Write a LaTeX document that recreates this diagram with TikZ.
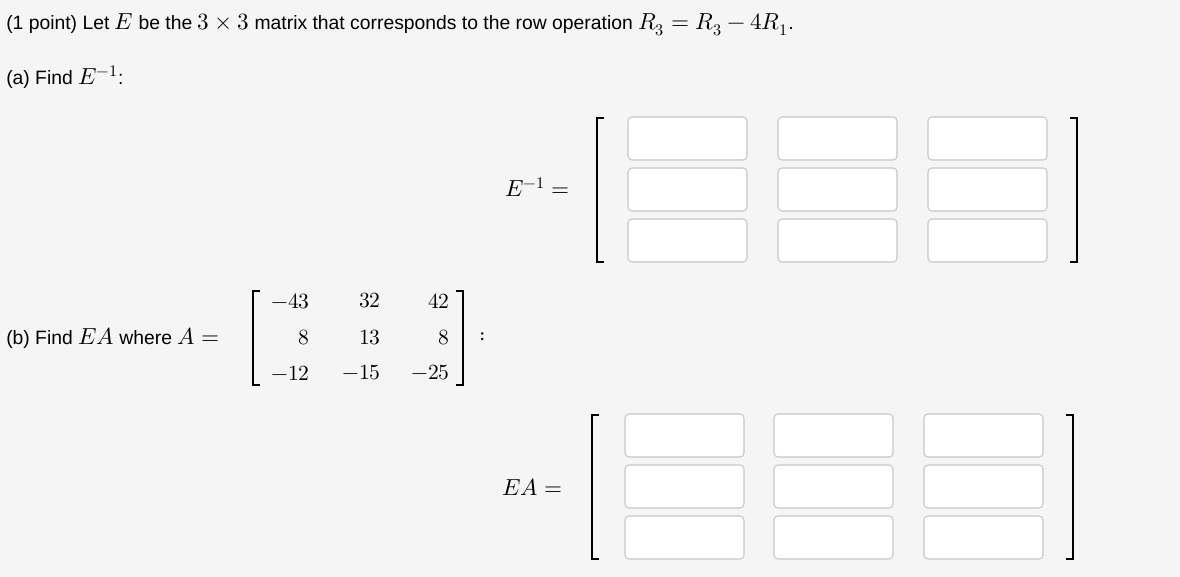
\documentclass[tikz,border=0pt]{standalone}
\usepackage{fontspec}
\setmainfont{Liberation Sans}
\usepackage{unicode-math}
\setmathfont[Scale=1.2]{Latin Modern Math}
\begin{document}
\begin{tikzpicture}[x=0.75pt,y=-0.75pt,
  ibox/.style={draw=black!22,fill=white,rounded corners=3pt,line width=0.8pt},
  brk/.style={line width=1.1pt},
  txt/.style={inner sep=0pt,anchor=west,font=\fontsize{14.5}{17}\selectfont},
  ent/.style={inner sep=0pt,anchor=east,font=\fontsize{13.5}{16}\selectfont}]
\fill[black!4] (0,0) rectangle (1180,577);
\useasboundingbox (0,0) rectangle (1180,577);
\node[txt] (l1) at (6,25) {(1 point) Let $E$ be the $3\times 3$ matrix that corresponds to the row operation $R_3=R_3-4R_1$.};
\node[txt] (la) at (6,77) {(a) Find $E^{-1}$:};
\node[txt,anchor=east] (einv) at (570,187) {$E^{-1}=$};
% top matrix
\foreach \c/\x in {0/628,1/778,2/928}
  \foreach \r/\y in {0/117,1/168,2/219}
    \draw[ibox] (\x,\y) rectangle ++(119,43);
\draw[brk] (604,118) -- (597,118) -- (597,262) -- (604,262);
\draw[brk] (1070,118) -- (1077,118) -- (1077,262) -- (1070,262);
% (b)
\node[txt] (lb) at (6,338) {(b) Find $EA$ where $A=$};
\draw[brk] (260,291) -- (253,291) -- (253,385) -- (260,385);
\draw[brk] (456,291) -- (463,291) -- (463,385) -- (456,385);
\foreach \v/\x/\y in {−43/310/301,32/381/301,42/450/301,8/310/338,13/381/338,8/450/338,−12/310/373,−15/381/373,−25/450/373}
  \node[ent] at (\x,\y) {$\v$};
\node[txt] (colon) at (479,338) {$:$};
\node[txt,anchor=east] (ea) at (563,487) {$EA=$};
\foreach \c/\x in {0/625,1/774,2/924}
  \foreach \r/\y in {0/414,1/465,2/516}
    \draw[ibox] (\x,\y) rectangle ++(119,43);
\draw[brk] (599,415) -- (592,415) -- (592,559) -- (599,559);
\draw[brk] (1066,415) -- (1073,415) -- (1073,559) -- (1066,559);
\end{tikzpicture}
\end{document}
